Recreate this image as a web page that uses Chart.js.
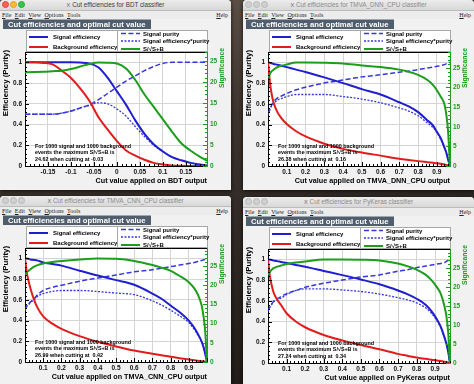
<!DOCTYPE html>
<html>
<head>
<meta charset="utf-8">
<title>Cut efficiencies</title>
<script src="https://cdn.jsdelivr.net/npm/chart.js@4.4.1/dist/chart.umd.min.js"></script>
<style>
  html, body { margin: 0; padding: 0; }
  body {
    width: 474px; height: 384px; overflow: hidden; position: relative;
    background: linear-gradient(165deg, #6a5c52 0%, #3d342e 35%, #2a2420 70%, #1c1816 100%);
    font-family: "Liberation Sans", Arial, sans-serif;
  }
  .win {
    position: absolute; width: 231px; height: 190px; background: #ececec;
    border-radius: 4px 4px 0 0; overflow: hidden; box-shadow: 0 1px 4px rgba(0,0,0,0.75);
  }
  .tbar {
    position: relative; height: 11px; box-sizing: border-box;
    background: linear-gradient(#ececec, #d8d8d8); border-bottom: 1px solid #bcbcbc;
    font-size: 6.3px; line-height: 9px; color: #8a8a8a; text-align: center; white-space: nowrap;
  }
  .active .tbar { color: #3c3c3c; }
  .tbar i {
    position: absolute; top: 1px; width: 7px; height: 7px; border-radius: 50%;
    background: #d0d0d0; border: 0.5px solid #b8b8b8; box-sizing: border-box;
  }
  .tbar i:nth-child(1) { left: 2px; }
  .tbar i:nth-child(2) { left: 10px; }
  .tbar i:nth-child(3) { left: 18px; }
  .active .tbar i:nth-child(1) { background: #fc5f57; border-color: #df4741; }
  .active .tbar i:nth-child(2) { background: #fdbc2e; border-color: #dea123; }
  .active .tbar i:nth-child(3) { background: #33c748; border-color: #27aa36; }
  .tbar .x11 { font-size: 5.5px; color: #666; margin-right: 2px; }
  .menu {
    position: relative; height: 8px; padding-left: 2px; white-space: nowrap;
    font: 6px "Liberation Serif", "DejaVu Serif", serif; line-height: 8px; color: #222;
  }
  .menu span { margin-right: 3.5px; }
  .menu .help { position: absolute; right: 3px; top: 0; margin: 0; }
  canvas { display: block; background: #f1f1f1; }
</style>
</head>
<body>

<div class="win active" style="left:0;top:0">
  <div class="tbar"><i></i><i></i><i></i><span class="x11">X</span>Cut efficiencies for BDT classifier</div>
  <div class="menu"><span><u>F</u>ile</span><span><u>E</u>dit</span><span><u>V</u>iew</span><span><u>O</u>ptions</span><span><u>T</u>ools</span><span class="help"><u>H</u>elp</span></div>
  <canvas id="cBDT" width="231" height="171"></canvas>
</div>

<div class="win" style="left:243px;top:0">
  <div class="tbar"><i></i><i></i><i></i><span class="x11">X</span>Cut efficiencies for TMVA_DNN_CPU classifier</div>
  <div class="menu"><span><u>F</u>ile</span><span><u>E</u>dit</span><span><u>V</u>iew</span><span><u>O</u>ptions</span><span><u>T</u>ools</span><span class="help"><u>H</u>elp</span></div>
  <canvas id="cDNN" width="231" height="171"></canvas>
</div>

<div class="win" style="left:0;top:196px">
  <div class="tbar"><i></i><i></i><i></i><span class="x11">X</span>Cut efficiencies for TMVA_CNN_CPU classifier</div>
  <div class="menu"><span><u>F</u>ile</span><span><u>E</u>dit</span><span><u>V</u>iew</span><span><u>O</u>ptions</span><span><u>T</u>ools</span><span class="help"><u>H</u>elp</span></div>
  <canvas id="cCNN" width="231" height="171"></canvas>
</div>

<div class="win" style="left:243px;top:197px">
  <div class="tbar"><i></i><i></i><i></i><span class="x11">X</span>Cut efficiencies for PyKeras classifier</div>
  <div class="menu"><span><u>F</u>ile</span><span><u>E</u>dit</span><span><u>V</u>iew</span><span><u>O</u>ptions</span><span><u>T</u>ools</span><span class="help"><u>H</u>elp</span></div>
  <canvas id="cPyK" width="231" height="171"></canvas>
</div>

<script>

// BDT
const cutBDT    = [-0.2, -0.18, -0.16, -0.14, -0.12, -0.1, -0.08, -0.06, -0.04, -0.02, 0, 0.02, 0.04, 0.06, 0.08, 0.1, 0.12, 0.14, 0.16, 0.18, 0.196];
const sigEffBDT = [1, 1, 1, 1, 1, 1, 0.998, 0.99, 0.95, 0.85, 0.72, 0.59, 0.44, 0.31, 0.21, 0.14, 0.085, 0.055, 0.03, 0.015, 0.005];
const bkgEffBDT = [1, 1, 0.995, 0.98, 0.92, 0.85, 0.75, 0.63, 0.47, 0.35, 0.24, 0.15, 0.1, 0.06, 0.03, 0.015, 0.006, 0.002, 0, 0, 0];
const purBDT    = [0.5, 0.5, 0.5, 0.5, 0.51, 0.53, 0.56, 0.59, 0.64, 0.7, 0.76, 0.82, 0.87, 0.92, 0.96, 0.99, 1, 1, 1, 1, 1];
const effPurBDT = [0.5, 0.5, 0.5, 0.5, 0.51, 0.53, 0.56, 0.585, 0.61, 0.6, 0.55, 0.48, 0.38, 0.285, 0.2, 0.14, 0.085, 0.055, 0.03, 0.015, 0.005];
const signifBDT = [22.28, 22.33, 22.4, 22.53, 22.65, 23.02, 23.64, 24.25, 24.58, 24.55, 24.37, 23.14, 20.43, 16.99, 14.03, 11.08, 8.12, 5.42, 3.69, 2.22, 1.23];

// TMVA_DNN_CPU
const cutDNN    = [0, 0.005, 0.01, 0.02, 0.03, 0.05, 0.07, 0.1, 0.15, 0.2, 0.3, 0.4, 0.5, 0.6, 0.7, 0.75, 0.8, 0.85, 0.88, 0.9, 0.92, 0.94, 0.95, 0.96, 0.97];
const sigEffDNN = [1, 0.998, 0.995, 0.99, 0.985, 0.977, 0.968, 0.954, 0.93, 0.907, 0.855, 0.8, 0.742, 0.69, 0.615, 0.575, 0.52, 0.44, 0.39, 0.33, 0.27, 0.18, 0.13, 0.06, 0];
const bkgEffDNN = [1, 0.92, 0.81, 0.69, 0.61, 0.52, 0.465, 0.405, 0.335, 0.285, 0.215, 0.165, 0.13, 0.1, 0.07, 0.058, 0.047, 0.037, 0.031, 0.027, 0.022, 0.015, 0.011, 0.006, 0];
const purDNN    = [0.5, 0.52, 0.55, 0.59, 0.62, 0.655, 0.675, 0.7, 0.735, 0.76, 0.8, 0.83, 0.86, 0.88, 0.905, 0.915, 0.93, 0.945, 0.955, 0.962, 0.968, 0.978, 0.985, 0.992, 1];
const effPurDNN = [0.5, 0.52, 0.545, 0.58, 0.6, 0.635, 0.65, 0.67, 0.69, 0.69, 0.69, 0.67, 0.645, 0.61, 0.56, 0.53, 0.485, 0.415, 0.37, 0.32, 0.26, 0.175, 0.13, 0.06, 0];
const signifDNN = [22.42, 22.95, 23.48, 24.14, 24.53, 25.19, 25.51, 25.85, 26.33, 26.34, 26.3, 26.12, 25.59, 25.19, 24.53, 24.0, 23.2, 21.9, 20.6, 19.3, 17.7, 15.8, 13.2, 8.7, 0];

// TMVA_CNN_CPU
const cutCNN    = [0, 0.005, 0.01, 0.02, 0.03, 0.05, 0.07, 0.1, 0.15, 0.2, 0.3, 0.4, 0.5, 0.6, 0.7, 0.75, 0.8, 0.85, 0.9, 0.93, 0.95, 0.97, 0.98, 0.99, 1];
const sigEffCNN = [1, 0.999, 0.998, 0.995, 0.99, 0.985, 0.978, 0.96, 0.945, 0.93, 0.88, 0.835, 0.79, 0.745, 0.66, 0.61, 0.545, 0.48, 0.4, 0.33, 0.27, 0.2, 0.15, 0.08, 0];
const bkgEffCNN = [1, 0.93, 0.86, 0.78, 0.71, 0.6, 0.52, 0.44, 0.37, 0.32, 0.25, 0.195, 0.15, 0.11, 0.08, 0.065, 0.05, 0.037, 0.025, 0.018, 0.012, 0.008, 0.005, 0.003, 0];
const purCNN    = [0.5, 0.52, 0.54, 0.56, 0.58, 0.61, 0.65, 0.69, 0.72, 0.74, 0.78, 0.81, 0.84, 0.87, 0.89, 0.905, 0.92, 0.935, 0.95, 0.96, 0.97, 0.98, 0.985, 0.99, 1];
const effPurCNN = [0.5, 0.52, 0.54, 0.555, 0.575, 0.6, 0.635, 0.66, 0.68, 0.69, 0.69, 0.68, 0.665, 0.65, 0.59, 0.55, 0.5, 0.445, 0.38, 0.315, 0.26, 0.195, 0.148, 0.08, 0];
const signifCNN = [22.67, 23.08, 23.35, 23.75, 24.16, 24.83, 25.24, 25.64, 26.05, 26.32, 26.72, 26.97, 26.86, 26.32, 25.24, 24.56, 23.75, 22.4, 20.78, 19.16, 17.54, 14.84, 12.15, 8.1, 0];

// PyKeras
const cutPyK    = [0, 0.005, 0.01, 0.02, 0.03, 0.05, 0.07, 0.1, 0.15, 0.2, 0.3, 0.4, 0.5, 0.6, 0.7, 0.75, 0.8, 0.85, 0.88, 0.91, 0.93, 0.95, 0.96, 0.97, 0.98];
const sigEffPyK = [1, 0.999, 0.997, 0.994, 0.99, 0.983, 0.975, 0.964, 0.946, 0.928, 0.888, 0.848, 0.806, 0.76, 0.7, 0.665, 0.62, 0.56, 0.5, 0.42, 0.35, 0.25, 0.19, 0.11, 0];
const bkgEffPyK = [1, 0.92, 0.84, 0.75, 0.68, 0.61, 0.56, 0.48, 0.4, 0.345, 0.27, 0.218, 0.173, 0.132, 0.088, 0.07, 0.053, 0.04, 0.032, 0.025, 0.019, 0.013, 0.009, 0.005, 0];
const purPyK    = [0.5, 0.52, 0.54, 0.57, 0.595, 0.62, 0.64, 0.67, 0.7, 0.73, 0.77, 0.8, 0.83, 0.85, 0.885, 0.9, 0.92, 0.935, 0.945, 0.955, 0.96, 0.97, 0.98, 0.99, 1];
const effPurPyK = [0.5, 0.52, 0.54, 0.565, 0.59, 0.61, 0.625, 0.66, 0.7, 0.715, 0.715, 0.705, 0.69, 0.665, 0.63, 0.61, 0.58, 0.53, 0.48, 0.405, 0.34, 0.245, 0.19, 0.11, 0];
const signifPyK = [23.15, 23.56, 23.97, 24.52, 24.92, 25.33, 25.61, 26.01, 26.42, 26.7, 27.2, 27.22, 27.15, 26.97, 26.15, 25.47, 24.52, 23.15, 21.79, 19.89, 18.25, 14.98, 12.53, 8.17, 0];

// maximum significance and where it sits, as printed on each canvas
const maxSignif = [24.62, 26.38, 26.99, 27.24];
const optCut    = ['-0.03', ' 0.16', ' 0.42', ' 0.34'];
const nSig = 1000, nBkg = 1000;

// ---- drawing ----

const FONT = '"Liberation Sans", Arial, Helvetica, sans-serif';
const BLUE = '#1f1fd0';
const BLUE2 = '#3838da';
const RED = '#e01c1c';
const GREEN = '#1c9e1c';

const LEGEND_LEFT = [
  { label: 'Signal efficiency', color: BLUE, width: 2, dash: [], y: 18 },
  { label: 'Background efficiency', color: RED, width: 2, dash: [], y: 28 }
];
const LEGEND_RIGHT = [
  { label: 'Signal purity', color: BLUE2, width: 1.5, dash: [5, 2.5], y: 14.5 },
  { label: 'Signal efficiency*purity', color: BLUE2, width: 1.3, dash: [2, 1.5], y: 22 },
  { label: 'S/\u221AS+B', color: GREEN, width: 2, dash: [], y: 30 }
];

function drawLegendBox(ctx, x0, w, items, lineX0, lineX1, textX) {
  ctx.fillStyle = '#fff';
  ctx.fillRect(x0, 11, w, 22);
  ctx.strokeStyle = '#a8a8a8';
  ctx.lineWidth = 1;
  ctx.strokeRect(x0 + 0.5, 11.5, w - 1, 21);
  items.forEach(it => {
    ctx.beginPath();
    ctx.strokeStyle = it.color;
    ctx.lineWidth = it.width;
    ctx.setLineDash(it.dash);
    ctx.moveTo(lineX0, it.y);
    ctx.lineTo(lineX1, it.y);
    ctx.stroke();
    ctx.setLineDash([]);
    ctx.fillStyle = '#000';
    ctx.font = 'bold 6px ' + FONT;
    ctx.textBaseline = 'middle';
    ctx.textAlign = 'left';
    ctx.fillText(it.label, textX, it.y + 0.5);
  });
}

// ROOT style inward ticks along a scale
function drawAxisTicks(ctx, scale, a, side, major, per, color) {
  const minor = major / per;
  const k0 = Math.ceil(scale.min / minor - 1e-6);
  const k1 = Math.floor(scale.max / minor + 1e-6);
  ctx.strokeStyle = color;
  ctx.lineWidth = 1;
  ctx.beginPath();
  for (let k = k0; k <= k1; k++) {
    const len = (k % per === 0) ? 4 : 2;
    const p = Math.round(scale.getPixelForValue(k * minor)) + 0.5;
    if (side === 'bottom') { ctx.moveTo(p, a.bottom); ctx.lineTo(p, a.bottom - len); }
    if (side === 'left')   { ctx.moveTo(a.left, p);   ctx.lineTo(a.left + len, p); }
    if (side === 'right')  { ctx.moveTo(a.right, p);  ctx.lineTo(a.right - len, p); }
  }
  ctx.stroke();
}

const rootPad = {
  id: 'rootPad',
  beforeDraw(chart, args, o) {
    const { ctx, chartArea: a } = chart;
    ctx.save();
    ctx.fillStyle = '#fff';
    ctx.fillRect(a.left, a.top, a.right - a.left, a.bottom - a.top);

    // title box
    ctx.fillStyle = '#505d6c';
    ctx.fillRect(3, 0.5, 148, 9.5);
    ctx.fillStyle = '#fff';
    ctx.font = 'bold 7.7px ' + FONT;
    ctx.textBaseline = 'middle';
    ctx.fillText('Cut efficiencies and optimal cut value', 8, 5.6);

    drawLegendBox(ctx, 26, 92, LEGEND_LEFT, 29, 48, 53);
    drawLegendBox(ctx, 117, 91, LEGEND_RIGHT, 121, 140, 143);
    ctx.restore();
  },
  afterDatasetsDraw(chart, args, o) {
    const { ctx } = chart;
    ctx.save();
    ctx.fillStyle = '#000';
    ctx.font = 'bold 5.4px ' + FONT;
    ctx.textBaseline = 'middle';
    ctx.textAlign = 'left';
    o.lines.forEach((t, i) => ctx.fillText(t, 35, 127.5 + i * 6.5));
    ctx.restore();
  },
  afterDraw(chart, args, o) {
    const { ctx, chartArea: a, scales } = chart;
    ctx.save();
    // top of frame
    ctx.strokeStyle = '#000';
    ctx.lineWidth = 1;
    ctx.beginPath();
    ctx.moveTo(a.left, a.top + 0.5);
    ctx.lineTo(a.right, a.top + 0.5);
    ctx.stroke();

    drawAxisTicks(ctx, scales.x, a, 'bottom', o.xStep, 5, '#000');
    drawAxisTicks(ctx, scales.y, a, 'left', 0.2, 5, '#000');
    drawAxisTicks(ctx, scales.y2, a, 'right', 5, 5, GREEN);

    // rotated axis titles, right-adjusted at the top as ROOT does
    ctx.textBaseline = 'middle';
    ctx.textAlign = 'right';
    ctx.save();
    ctx.translate(6, 31);
    ctx.rotate(-Math.PI / 2);
    ctx.fillStyle = '#000';
    ctx.font = 'bold 7.8px ' + FONT;
    ctx.fillText('Efficiency (Purity)', 0, 0);
    ctx.restore();

    ctx.save();
    ctx.translate(222, 29);
    ctx.rotate(-Math.PI / 2);
    ctx.fillStyle = GREEN;
    ctx.font = 'bold 6.8px ' + FONT;
    ctx.fillText('Significance', 0, 0);
    ctx.restore();
    ctx.restore();
  }
};

function series(cut, vals, color, width, dash, axis) {
  return {
    data: cut.map((c, i) => ({ x: c, y: vals[i] })),
    yAxisID: axis,
    borderColor: color,
    borderWidth: width,
    borderDash: dash,
    pointRadius: 0,
    fill: false,
    cubicInterpolationMode: 'monotone'
  };
}

function makeChart(id, p) {
  const tickFont = { family: FONT, size: 6.5, weight: 'bold' };
  const step = p.xStep;
  return new Chart(document.getElementById(id), {
    type: 'line',
    data: {
      datasets: [
        series(p.cut, p.signif, GREEN, 2, [], 'y2'),
        series(p.cut, p.bkgEff, RED, 2, [], 'y'),
        series(p.cut, p.sigEff, BLUE, 2, [], 'y'),
        series(p.cut, p.pur, BLUE2, 1.5, [5, 2.5], 'y'),
        series(p.cut, p.effPur, BLUE2, 1.3, [2, 1.5], 'y')
      ]
    },
    options: {
      responsive: false,
      animation: false,
      devicePixelRatio: 1,
      layout: { padding: { top: 33, left: 0, right: 0, bottom: 0 } },
      plugins: {
        legend: { display: false },
        tooltip: { enabled: false },
        rootPad: {
          xStep: step,
          lines: [
            'For ' + nSig + ' signal and ' + nBkg + ' background',
            'events the maximum S/\u221AS+B is',
            p.smax.toFixed(2) + ' when cutting at ' + p.opt
          ]
        }
      },
      scales: {
        x: {
          type: 'linear',
          position: 'bottom',
          min: p.xMin,
          max: p.xMax,
          ticks: {
            stepSize: step,
            includeBounds: false,
            autoSkip: false,
            maxRotation: 0,
            padding: 2,
            color: '#111',
            font: tickFont,
            callback: v => {
              const k = Math.round(v / step);
              if (Math.abs(v - k * step) > 1e-6) return '';
              if (v <= p.xMin + 1e-6 || v >= p.xMax - 1e-6) return '';
              return String(+(k * step).toFixed(2));
            }
          },
          grid: { color: '#d4d4d4', drawTicks: false },
          border: { color: '#000' },
          title: {
            display: true,
            text: p.xTitle,
            align: 'end',
            color: '#000',
            font: { family: FONT, size: 7.2, weight: 'bold' },
            padding: { top: 0, bottom: 5 }
          },
          afterFit: s => { s.height = 24; s.paddingLeft = 0; s.paddingRight = 0; }
        },
        y: {
          position: 'left',
          min: 0,
          max: 1.1,
          ticks: {
            stepSize: 0.2,
            includeBounds: false,
            padding: 3,
            color: '#111',
            font: tickFont,
            callback: v => String(+v.toFixed(1))
          },
          grid: { color: '#d4d4d4', drawTicks: false },
          border: { color: '#000' },
          afterFit: s => { s.width = 25; s.paddingTop = 0; s.paddingBottom = 0; }
        },
        y2: {
          position: 'right',
          min: 0,
          max: p.smax * 1.1,
          ticks: {
            stepSize: 5,
            includeBounds: false,
            padding: 3,
            color: GREEN,
            font: tickFont,
            callback: v => (v % 5 === 0 ? String(v) : '')
          },
          grid: { drawOnChartArea: false, drawTicks: false },
          border: { color: GREEN },
          afterFit: s => { s.width = 24; s.paddingTop = 0; s.paddingBottom = 0; }
        }
      }
    },
    plugins: [rootPad]
  });
}

makeChart('cBDT', {
  cut: cutBDT, sigEff: sigEffBDT, bkgEff: bkgEffBDT, pur: purBDT, effPur: effPurBDT, signif: signifBDT,
  xMin: -0.2, xMax: 0.196, xStep: 0.05, smax: maxSignif[0], opt: optCut[0],
  xTitle: 'Cut value applied on BDT output'
});
makeChart('cDNN', {
  cut: cutDNN, sigEff: sigEffDNN, bkgEff: bkgEffDNN, pur: purDNN, effPur: effPurDNN, signif: signifDNN,
  xMin: 0, xMax: 0.97, xStep: 0.1, smax: maxSignif[1], opt: optCut[1],
  xTitle: 'Cut value applied on TMVA_DNN_CPU output'
});
makeChart('cCNN', {
  cut: cutCNN, sigEff: sigEffCNN, bkgEff: bkgEffCNN, pur: purCNN, effPur: effPurCNN, signif: signifCNN,
  xMin: 0, xMax: 1, xStep: 0.1, smax: maxSignif[2], opt: optCut[2],
  xTitle: 'Cut value applied on TMVA_CNN_CPU output'
});
makeChart('cPyK', {
  cut: cutPyK, sigEff: sigEffPyK, bkgEff: bkgEffPyK, pur: purPyK, effPur: effPurPyK, signif: signifPyK,
  xMin: 0, xMax: 0.98, xStep: 0.1, smax: maxSignif[3], opt: optCut[3],
  xTitle: 'Cut value applied on PyKeras output'
});
</script>
</body>
</html>
